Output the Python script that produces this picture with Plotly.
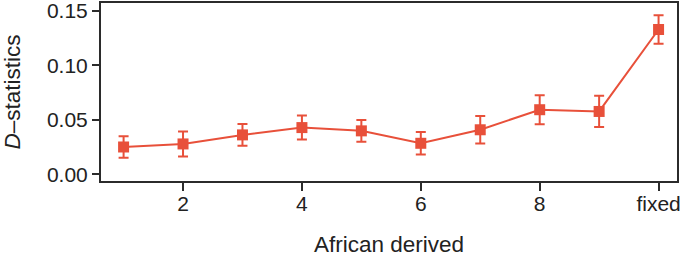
import plotly.graph_objects as go

x_vals = [1, 2, 3, 4, 5, 6, 7, 8, 9, 10]
d_stat = [0.0252, 0.0280, 0.0363, 0.0430, 0.0400, 0.0286, 0.0410, 0.0594, 0.0578, 0.1330]
d_err = [0.0098, 0.0115, 0.0100, 0.0110, 0.0100, 0.0103, 0.0126, 0.0133, 0.0143, 0.0130]
tick_vals = [2, 4, 6, 8, 10]
tick_text = ["2", "4", "6", "8", "fixed"]
y_ticks = [0.00, 0.05, 0.10, 0.15]

color = "#E8503A"
axis_color = "#2b2b2b"

fig = go.Figure()
fig.add_trace(go.Scatter(
    x=x_vals, y=d_stat, mode="lines+markers",
    line=dict(color=color, width=2),
    marker=dict(symbol="square", size=11, color=color),
    error_y=dict(type="data", array=d_err, visible=True, color=color, thickness=2, width=5),
    showlegend=False,
    hoverinfo="skip",
))

fam = "Liberation Sans, Arial, Helvetica, sans-serif"
tfont = dict(family=fam, size=21, color="#222222")
title_font = dict(family=fam, size=22.5, color="#222222")

fig.update_layout(
    width=685, height=257,
    margin=dict(l=101, r=8, t=3, b=76),
    paper_bgcolor="white", plot_bgcolor="white",
    font=tfont,
    xaxis=dict(
        range=[0.62, 10.31], tickvals=tick_vals, ticktext=tick_text,
        showgrid=False, zeroline=False, automargin=False,
        ticklabeloverflow="allow", ticklabelstandoff=-5,
        showline=True, linecolor=axis_color, linewidth=2, mirror=True,
        ticks="outside", ticklen=8, tickwidth=2, tickcolor=axis_color,
        tickfont=tfont,
        title=dict(text="African derived", standoff=25, font=title_font),
    ),
    yaxis=dict(
        range=[-0.006, 0.1573], tickvals=y_ticks, tickformat=".2f",
        showgrid=False, zeroline=False, automargin=False,
        ticklabeloverflow="allow",
        showline=True, linecolor=axis_color, linewidth=2, mirror=True,
        ticks="outside", ticklen=7, tickwidth=2, tickcolor=axis_color,
        tickfont=tfont,
        title=dict(text="<i>D</i>\u2013statistics", standoff=21, font=title_font),
    ),
)

fig.write_html(
    "out.html",
    config={"displayModeBar": False},
    post_script="document.body.style.margin='0';document.body.style.overflow='hidden';",
)
